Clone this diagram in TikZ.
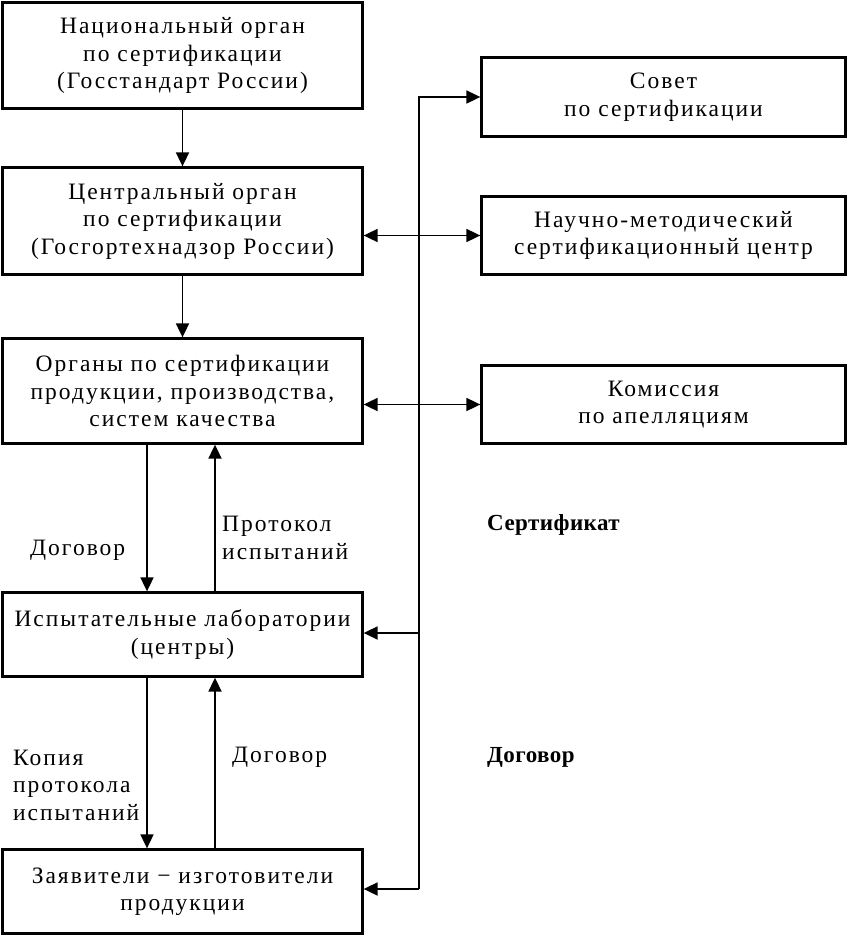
\documentclass[tikz,border=0pt]{standalone}
\usepackage{fontspec}
\setmainfont{Liberation Serif}[LetterSpace=8.5]
\newfontfamily\boldlab{Liberation Serif}[LetterSpace=2]
\usetikzlibrary{arrows.meta}
\begin{document}
\begin{tikzpicture}[x=1pt,y=-1pt,
  txt/.style={font=\fontsize{23.5}{27.5}\selectfont},
  box/.style={draw, line width=2.3pt, inner sep=0pt, align=center, txt},
  lbox/.style={box, minimum width=360pt},
  rbox/.style={box, minimum width=364pt},
  arr/.style={line width=1.8pt, -{Triangle[length=14pt,width=13pt]}},
  darr/.style={line width=1.8pt, {Triangle[length=14pt,width=13pt]}-{Triangle[length=14pt,width=13pt]}},
  lab/.style={txt, align=left, inner sep=0pt},
  blab/.style={font=\fontsize{23}{27}\selectfont\boldlab\bfseries, inner sep=0pt}
]
\useasboundingbox (0,0) rectangle (848,936);
\fill[white] (0,0) rectangle (848,936);

\node[lbox, minimum height=106pt] (b1) at (182.5,55.5) {Национальный орган\\по сертификации\\(Госстандарт России)};
\node[lbox, minimum height=107pt] (b2) at (182.5,221) {Центральный орган\\по сертификации\\(Госгортехнадзор России)};
\node[lbox, minimum height=105pt] (b3) at (182.5,391) {Органы по сертификации\\продукции, производства,\\систем качества};
\node[lbox, minimum height=84pt] (b4) at (182.5,634.5) {Испытательные лаборатории\\(центры)};
\node[lbox, minimum height=84pt] (b5) at (182.5,891.5) {Заявители − изготовители\\продукции};

\node[rbox, minimum height=79pt] (r1) at (663.5,97) {Совет\\по сертификации};
\node[rbox, minimum height=78pt] (r2) at (663.5,235.5) {Научно-методический\\сертификационный центр};
\node[rbox, minimum height=78pt] (r3) at (663.5,404.5) {Комиссия\\по апелляциям};

% vertical arrows
\draw[arr] (b1.south) -- (b2.north);
\draw[arr] (b2.south) -- (b3.north);
\draw[arr] ([xshift=-35.5pt]b3.south) -- ([xshift=-35.5pt]b4.north);
\draw[arr] ([xshift=32.5pt]b4.north) -- ([xshift=32.5pt]b3.south);
\draw[arr] ([xshift=-35.5pt]b4.south) -- ([xshift=-35.5pt]b5.north);
\draw[arr] ([xshift=32.5pt]b5.north) -- ([xshift=32.5pt]b4.south);

% double arrows
\draw[darr] (b2.east |- r2.west) -- (r2.west);
\draw[darr] (b3.east |- r3.west) -- (r3.west);

% trunk
\coordinate (tt) at (419,97);
\coordinate (tb) at (419,889);
\coordinate (t4) at (419,633);
\draw[arr] (tb) -- (tt) -- (r1.west);
\draw[arr] (t4) -- (b4.east |- t4);
\draw[arr] (tb) -- (b5.east |- tb);

% labels
\node[lab, anchor=west] (l1) at (30,550) {Договор};
\node[lab, anchor=west] (l2) at (222,538) {Протокол\\испытаний};
\node[lab, anchor=west] (l3) at (13,785) {Копия\\протокола\\испытаний};
\node[lab, anchor=west] (l4) at (232,757) {Договор};
\node[blab, anchor=west] (l5) at (487,525) {Сертификат};
\node[blab, anchor=west] (l6) at (487,757) {Договор};
\end{tikzpicture}
\end{document}
